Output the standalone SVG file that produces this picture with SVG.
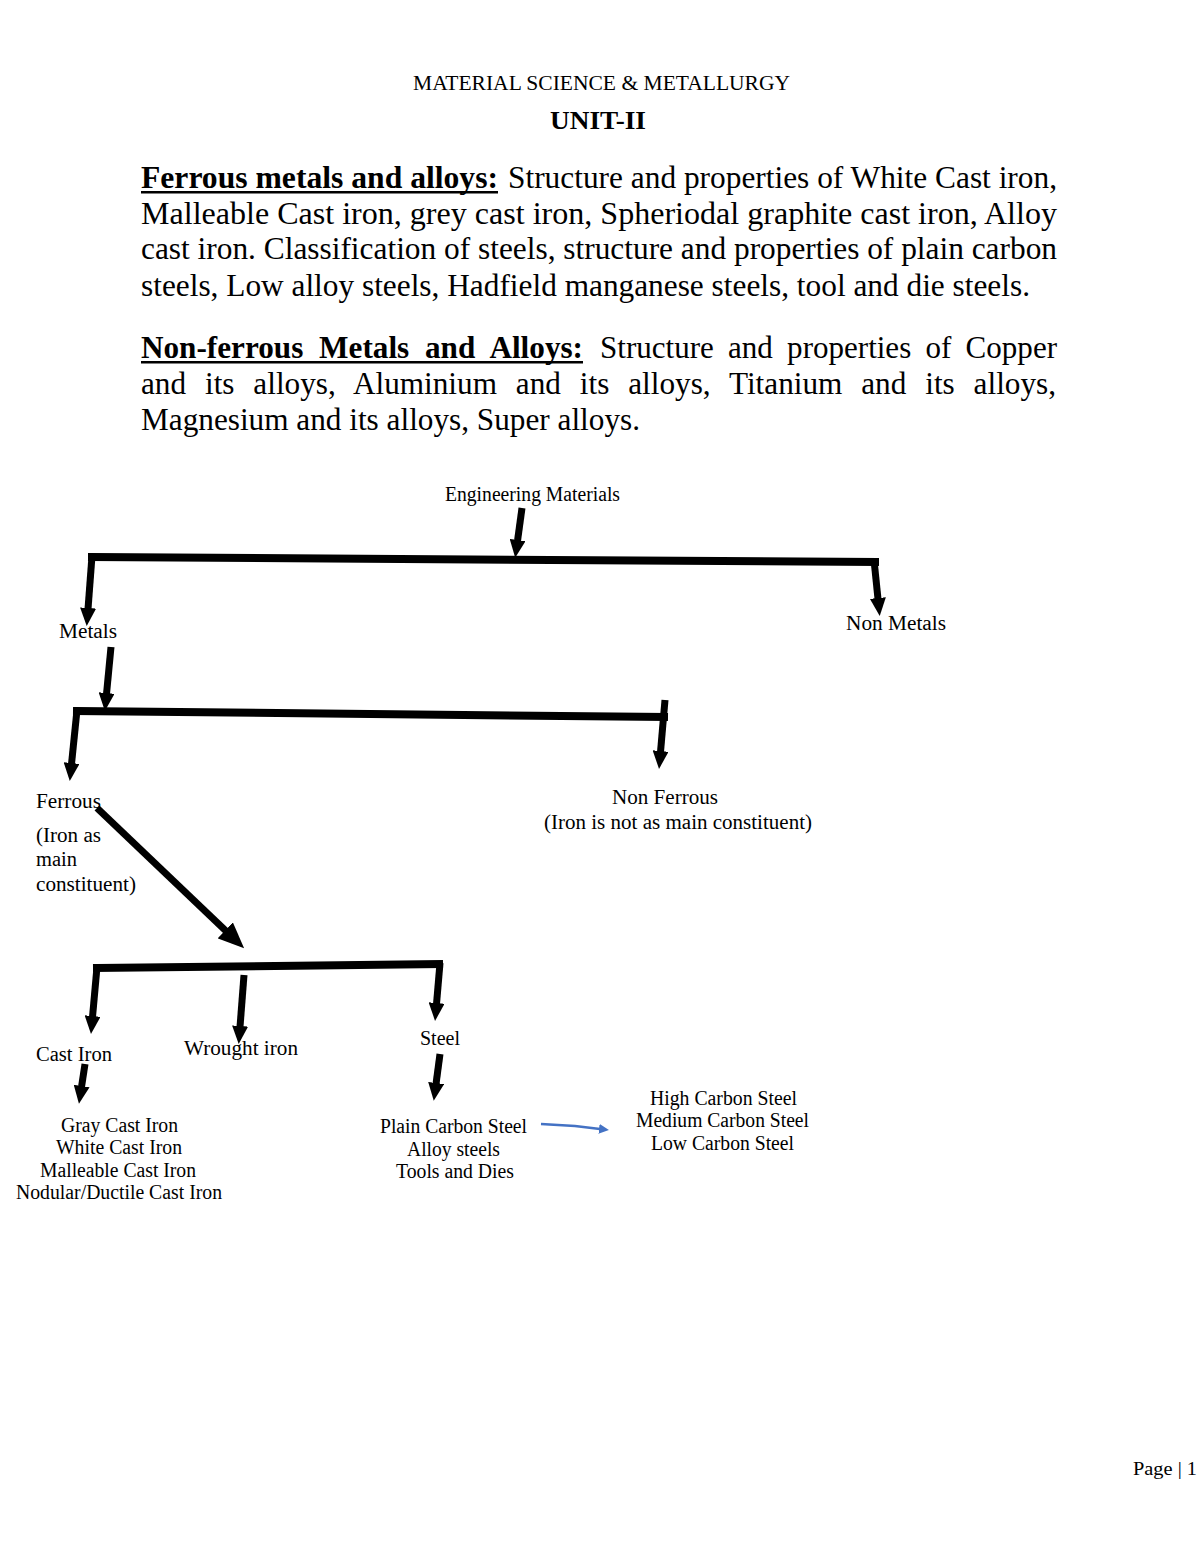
<svg xmlns="http://www.w3.org/2000/svg" width="1200" height="1553" viewBox="0 0 1200 1553">
<defs>
<style>
.t{font-family:"Liberation Serif","Times New Roman",serif;fill:#000}
.p{font-size:31px}
.b{font-weight:bold}
.d{font-size:20px}
.c{stroke:#000;stroke-width:7;fill:none;stroke-linecap:butt}
.bar{stroke:#000;stroke-width:8;fill:none;stroke-linecap:square}
.ul{fill:#000}
</style>
<marker id="ah" markerUnits="userSpaceOnUse" viewBox="0 0 18 16" markerWidth="18" markerHeight="16" refX="1" refY="8" orient="auto">
<path d="M0,0 L18,8 L0,16 z" fill="#000"/>
</marker>
<marker id="ahl" markerUnits="userSpaceOnUse" viewBox="0 0 26 22" markerWidth="26" markerHeight="22" refX="1" refY="11" orient="auto">
<path d="M0,0 L26,11 L0,22 z" fill="#000"/>
</marker>
<marker id="ahb" markerUnits="userSpaceOnUse" viewBox="0 0 10 10" markerWidth="10" markerHeight="10" refX="1" refY="5" orient="auto">
<path d="M0,0 L10,5 L0,10 z" fill="#4472C4"/>
</marker>
</defs>
<rect width="1200" height="1553" fill="#fff"/>

<g id="header">
<text class="t" x="413" y="90" font-size="20" textLength="377" lengthAdjust="spacingAndGlyphs">MATERIAL SCIENCE &amp; METALLURGY</text>
<text class="t b" x="550" y="129" font-size="25" textLength="96" lengthAdjust="spacingAndGlyphs">UNIT-II</text>
</g>

<g id="para1">
<text class="t p b" x="141" y="188" textLength="357" lengthAdjust="spacingAndGlyphs">Ferrous metals and alloys:</text>
<rect class="ul" x="141" y="191" width="357" height="2.5"/>
<text class="t p" x="508" y="188" textLength="549" lengthAdjust="spacingAndGlyphs">Structure and properties of White Cast iron,</text>
<text class="t p" x="141" y="224" textLength="916" lengthAdjust="spacingAndGlyphs">Malleable Cast iron, grey cast iron, Spheriodal graphite cast iron, Alloy</text>
<text class="t p" x="141" y="259" textLength="916" lengthAdjust="spacingAndGlyphs">cast iron. Classification of steels, structure and properties of plain carbon</text>
<text class="t p" x="141" y="296" textLength="889" lengthAdjust="spacingAndGlyphs">steels, Low alloy steels, Hadfield manganese steels, tool and die steels.</text>
</g>

<g id="para2">
<text class="t p b" x="141" y="358" word-spacing="8" textLength="442" lengthAdjust="spacingAndGlyphs">Non-ferrous Metals and Alloys:</text>
<rect class="ul" x="141" y="361" width="442" height="2.5"/>
<text class="t p" x="600" y="358" word-spacing="6.5" textLength="457" lengthAdjust="spacingAndGlyphs">Structure and properties of Copper</text>
<text class="t p" x="141" y="394" word-spacing="11" textLength="915" lengthAdjust="spacingAndGlyphs">and its alloys, Aluminium and its alloys, Titanium and its alloys,</text>
<text class="t p" x="141" y="430" textLength="499" lengthAdjust="spacingAndGlyphs">Magnesium and its alloys, Super alloys.</text>
</g>

<g id="connectors">
<line class="bar" x1="92" y1="557" x2="875" y2="562"/>
<line class="c" x1="522" y1="508" x2="517.5" y2="541" marker-end="url(#ah)"/>
<line class="c" x1="92" y1="556" x2="88" y2="609" marker-end="url(#ah)"/>
<line class="c" x1="874" y1="560" x2="878" y2="599" marker-end="url(#ah)"/>
<line class="c" x1="111" y1="647" x2="106.5" y2="694" marker-end="url(#ah)"/>
<line class="bar" x1="77" y1="711" x2="664" y2="717"/>
<line class="c" x1="77" y1="710" x2="71.5" y2="764" marker-end="url(#ah)"/>
<line class="c" x1="665" y1="700" x2="660.5" y2="752" marker-end="url(#ah)"/>
<line class="c" x1="97" y1="808" x2="226" y2="931" marker-end="url(#ahl)"/>
<line class="bar" x1="97" y1="968" x2="439" y2="964"/>
<line class="c" x1="97" y1="967" x2="92.5" y2="1017" marker-end="url(#ah)"/>
<line class="c" x1="244" y1="975" x2="240" y2="1027" marker-end="url(#ah)"/>
<line class="c" x1="440" y1="963" x2="436.5" y2="1004" marker-end="url(#ah)"/>
<line class="c" x1="85" y1="1064" x2="81.5" y2="1087" marker-end="url(#ah)"/>
<line class="c" x1="440" y1="1054" x2="436" y2="1084" marker-end="url(#ah)"/>
<path d="M541,1124 L575,1126 L600,1129" stroke="#4472C4" stroke-width="2.5" fill="none" marker-end="url(#ahb)"/>
</g>

<g id="n-engineering"><text class="t d" x="445" y="501" textLength="175" lengthAdjust="spacingAndGlyphs">Engineering Materials</text></g>
<g id="n-metals"><text class="t d" x="59" y="638" textLength="58" lengthAdjust="spacingAndGlyphs">Metals</text></g>
<g id="n-nonmetals"><text class="t d" x="846" y="630" textLength="100" lengthAdjust="spacingAndGlyphs">Non Metals</text></g>
<g id="n-ferrous">
<text class="t d" x="36" y="808" textLength="65" lengthAdjust="spacingAndGlyphs">Ferrous</text>
<text class="t d" x="36" y="842" textLength="65" lengthAdjust="spacingAndGlyphs">(Iron as</text>
<text class="t d" x="36" y="866" textLength="41" lengthAdjust="spacingAndGlyphs">main</text>
<text class="t d" x="36" y="891" textLength="100" lengthAdjust="spacingAndGlyphs">constituent)</text>
</g>
<g id="n-nonferrous">
<text class="t d" x="612" y="804" textLength="106" lengthAdjust="spacingAndGlyphs">Non Ferrous</text>
<text class="t d" x="544" y="829" textLength="268" lengthAdjust="spacingAndGlyphs">(Iron is not as main constituent)</text>
</g>
<g id="n-castiron"><text class="t d" x="36" y="1061" textLength="76" lengthAdjust="spacingAndGlyphs">Cast Iron</text></g>
<g id="n-wrought"><text class="t d" x="184" y="1055" textLength="114" lengthAdjust="spacingAndGlyphs">Wrought iron</text></g>
<g id="n-steel"><text class="t d" x="420" y="1045" textLength="40" lengthAdjust="spacingAndGlyphs">Steel</text></g>
<g id="n-casttypes">
<text class="t d" x="61" y="1132" textLength="117" lengthAdjust="spacingAndGlyphs">Gray Cast Iron</text>
<text class="t d" x="56" y="1154" textLength="126" lengthAdjust="spacingAndGlyphs">White Cast Iron</text>
<text class="t d" x="40" y="1177" textLength="156" lengthAdjust="spacingAndGlyphs">Malleable Cast Iron</text>
<text class="t d" x="16" y="1199" textLength="206" lengthAdjust="spacingAndGlyphs">Nodular/Ductile Cast Iron</text>
</g>
<g id="n-steeltypes">
<text class="t d" x="380" y="1133" textLength="147" lengthAdjust="spacingAndGlyphs">Plain Carbon Steel</text>
<text class="t d" x="407" y="1156" textLength="93" lengthAdjust="spacingAndGlyphs">Alloy steels</text>
<text class="t d" x="396" y="1178" textLength="118" lengthAdjust="spacingAndGlyphs">Tools and Dies</text>
</g>
<g id="n-carbon">
<text class="t d" x="650" y="1105" textLength="147" lengthAdjust="spacingAndGlyphs">High Carbon Steel</text>
<text class="t d" x="636" y="1127" textLength="173" lengthAdjust="spacingAndGlyphs">Medium Carbon Steel</text>
<text class="t d" x="651" y="1150" textLength="143" lengthAdjust="spacingAndGlyphs">Low Carbon Steel</text>
</g>

<g id="footer"><text class="t" x="1133" y="1475" font-size="19" textLength="64" lengthAdjust="spacingAndGlyphs">Page | 1</text></g>
</svg>
